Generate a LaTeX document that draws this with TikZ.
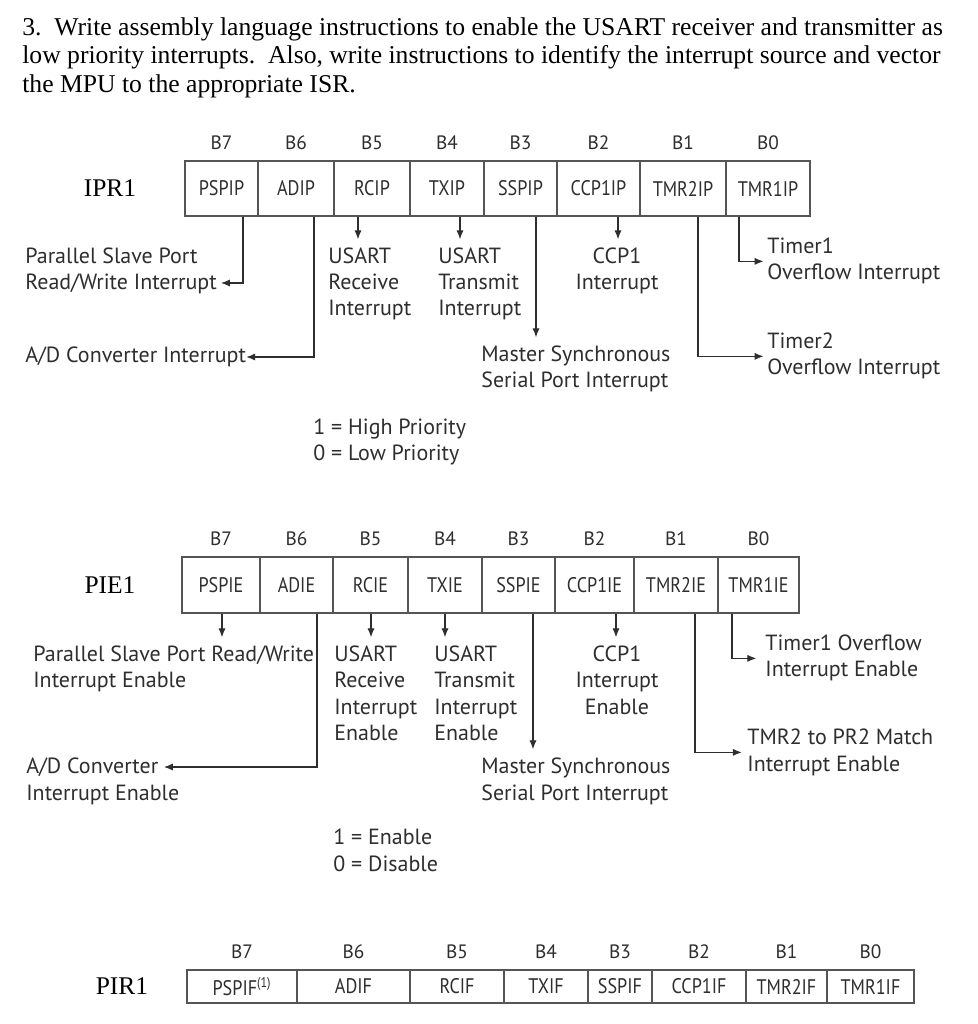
\documentclass[tikz,border=0pt]{standalone}
\usepackage{fontspec}
\setmainfont{Liberation Serif}
\setsansfont{PT Sans}
\newfontfamily\cellfont[FakeStretch=0.86]{PT Sans}
\usepackage{xcolor}
\definecolor{regink}{HTML}{2e2e2e}
\definecolor{regline}{HTML}{555555}
\usepackage{tikz}
\usetikzlibrary{
  arrows.meta,
  positioning,
}

\begin{document}
\begin{tikzpicture}[
  x=0.02cm, y=-0.02cm,
  cell/.style={
    draw=regline, line width=0.7pt, inner sep=0pt,
    font=\cellfont\fontsize{12}{14}\selectfont, text=regink,
  },
  bit/.style={
    font=\sffamily\fontsize{11}{13}\selectfont, text=regink, inner sep=0pt,
  },
  reg/.style={
    font=\fontsize{14.5}{16}\selectfont, text=black,
  },
  lbl/.style={
    font=\sffamily\fontsize{12.5}{14.8}\selectfont, text=regink,
    align=left, inner sep=0pt, anchor=north west,
  },
  arr/.style={
    draw=regink, line width=0.6pt, -{Latex[length=5pt,width=4pt]},
  },
  dn/.style={
    arr, shorten >=5pt,
  },
]
  \useasboundingbox[fill=white] (0,0) rectangle (977,1024);

  % Question
  \node[anchor=north west, inner sep=0pt, align=left,
    font=\fontsize{14.6}{16.2}\selectfont] (task) at (22,17)
    {3.\ \ Write assembly language instructions to enable the USART receiver and transmitter as\\
     low priority interrupts.\ \ Also, write instructions to identify the interrupt source and vector\\
     the MPU to the appropriate ISR.};

  % IPR1 register
  \node[reg] (ipr) at (110,188) {IPR1};
  \foreach \l/\r/\b/\t in {185/258/7/PSPIP, 258/334/6/ADIP, 334/410/5/RCIP,
      410/484/4/TXIP, 484/557/3/SSPIP, 557/640/2/CCP1IP, 640/726/1/TMR2IP,
      726/810/0/TMR1IP} {
    \node[cell, minimum width={(\r-\l)*0.02cm}, minimum height=1.1cm]
      (ipr\b) at ({(\l+\r)/2},188.5) {\t};
    \node[bit, above=6pt of ipr\b] (iprb\b) {B\b};
  }

  \node[lbl] (pspip-txt) at (25,248) {Parallel Slave Port\\Read/Write Interrupt};
  \node[lbl, anchor=west] (adip-txt) at (25,357) {A/D Converter Interrupt};
  \node[lbl] (rcip-txt) at (328,248) {USART\\Receive\\Interrupt};
  \node[lbl] (txip-txt) at (438,248) {USART\\Transmit\\Interrupt};
  \node[lbl] (sspip-txt) at (481,346) {Master Synchronous\\Serial Port Interrupt};
  \node[lbl, anchor=north, align=center] (ccpip-txt) at (617,248) {CCP1\\Interrupt};
  \node[lbl] (t2ip-txt) at (767,333) {Timer2\\Overflow Interrupt};
  \node[lbl] (t1ip-txt) at (767,238) {Timer1\\Overflow Interrupt};
  \node[lbl] (ipr-key) at (313,419) {1 = High Priority\\0 = Low Priority};

  \coordinate (pspip-end) at (221,283);
  \draw[arr] (ipr7.south -| 243,0) |- (pspip-end);
  \draw[arr] (ipr6.south -| 314,0) |- (adip-txt.east);
  \draw[dn] (ipr5.south -| 358,0) -- (rcip-txt.north -| 358,0);
  \draw[dn] (ipr4.south -| 460,0) -- (txip-txt.north -| 460,0);
  \draw[dn] (ipr3.south -| 536,0) -- (sspip-txt.north -| 536,0);
  \draw[dn] (ipr2.south -| 618,0) -- (ccpip-txt.north -| 618,0);
  \draw[arr, shorten >=2pt] (ipr1.south -| 698,0) |- (t2ip-txt.west);
  \draw[arr, shorten >=2pt] (ipr0.south -| 739,0) |- (t1ip-txt.west);

  % PIE1 register
  \node[reg] (pie) at (110,585) {PIE1};
  \foreach \l/\r/\b/\t in {182/260/7/PSPIE, 260/333/6/ADIE, 333/408/5/RCIE,
      408/482/4/TXIE, 482/555/3/SSPIE, 555/634/2/CCP1IE, 634/718/1/TMR2IE,
      718/799/0/TMR1IE} {
    \node[cell, minimum width={(\r-\l)*0.02cm}, minimum height=1.12cm]
      (pie\b) at ({(\l+\r)/2},585) {\t};
    \node[bit, above=6pt of pie\b] (pieb\b) {B\b};
  }

  \node[lbl] (pspie-txt) at (33,646) {Parallel Slave Port Read/Write\\Interrupt Enable};
  \node[lbl] (adie-txt) at (26,758) {A/D Converter\\Interrupt Enable};
  \node[lbl] (rcie-txt) at (334,646) {USART\\Receive\\Interrupt\\Enable};
  \node[lbl] (txie-txt) at (434,646) {USART\\Transmit\\Interrupt\\Enable};
  \node[lbl] (sspie-txt) at (481,758) {Master Synchronous\\Serial Port Interrupt};
  \node[lbl, anchor=north, align=center] (ccpie-txt) at (617,646) {CCP1\\Interrupt\\Enable};
  \node[lbl] (t2ie-txt) at (747,729) {TMR2 to PR2 Match\\Interrupt Enable};
  \node[lbl] (t1ie-txt) at (765,635) {Timer1 Overflow\\Interrupt Enable};
  \node[lbl] (pie-key) at (333,829) {1 = Enable\\0 = Disable};

  \coordinate (adie-end) at (164,767);
  \draw[dn] (pie7.south -| 222,0) -- (pspie-txt.north -| 222,0);
  \draw[arr] (pie6.south -| 317,0) |- (adie-end);
  \draw[dn] (pie5.south -| 371,0) -- (rcie-txt.north -| 371,0);
  \draw[dn] (pie4.south -| 445,0) -- (txie-txt.north -| 445,0);
  \draw[dn] (pie3.south -| 533,0) -- (sspie-txt.north -| 533,0);
  \draw[dn] (pie2.south -| 616,0) -- (ccpie-txt.north -| 616,0);
  \draw[arr, shorten >=3pt] (pie1.south -| 695,0) |- (t2ie-txt.west);
  \draw[arr, shorten >=5pt] (pie0.south -| 732,0) |- (t1ie-txt.west);

  % PIR1 register
  \node[reg] (pir) at (122,986) {PIR1};
  \foreach \l/\r/\b/\t in {187/297/7/{PSPIF\textsuperscript{(1)}}, 297/410/6/ADIF,
      410/504/5/RCIF, 504/588/4/TXIF, 588/652/3/SSPIF, 652/746/2/CCP1IF,
      746/827/1/TMR2IF, 827/914/0/TMR1IF} {
    \node[cell, minimum width={(\r-\l)*0.02cm}, minimum height=0.66cm]
      (pir\b) at ({(\l+\r)/2},986.5) {\t};
    \node[bit, above=6pt of pir\b] (pirb\b) {B\b};
  }
\end{tikzpicture}
\end{document}
